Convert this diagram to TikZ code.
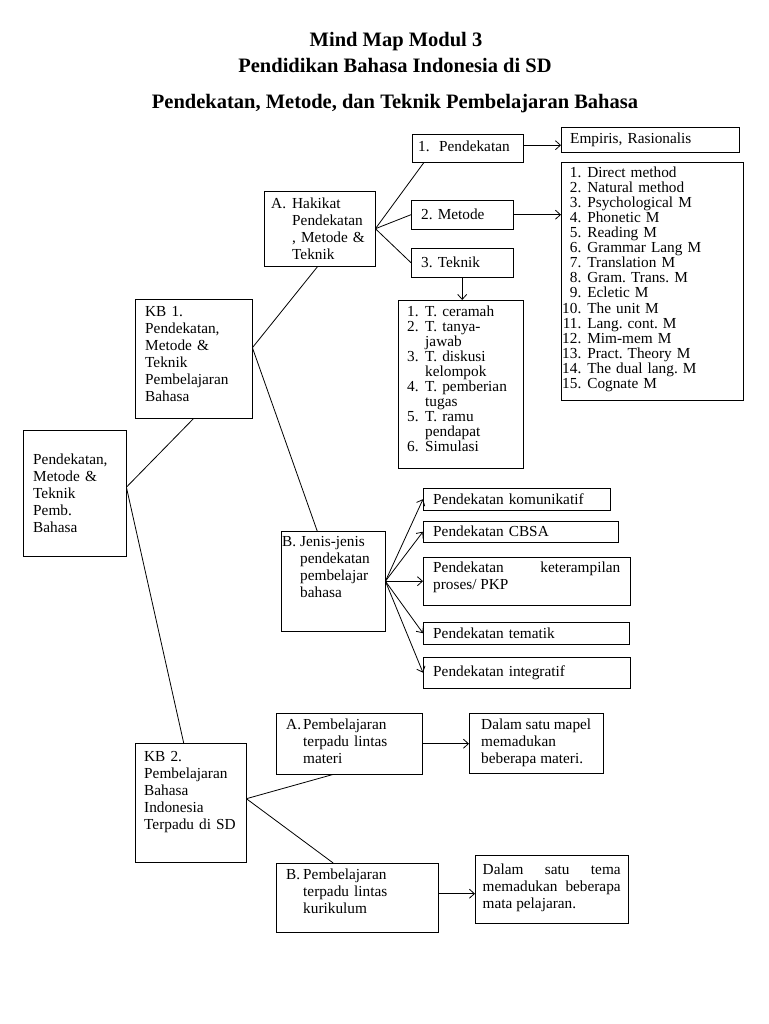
\documentclass[tikz,border=0pt]{standalone}
\usepackage{fontspec}
\setmainfont{Liberation Serif}
\usepackage{tikz}
\usetikzlibrary{arrows, arrows.meta, calc, positioning}

\newcommand{\bodyfont}{\fontsize{15.3}{17}\selectfont}
\newcommand{\listfont}{\fontsize{15.3}{15}\selectfont}
\newcommand{\titlefont}{\fontsize{20.5}{24}\selectfont\bfseries}

\tikzset{
  box/.style={draw, anchor=north west, align=left, inner xsep=10pt, inner ysep=0pt, font=\bodyfont},
  toptext/.style 2 args={text height=#1, text depth=#2},
  ttl/.style={font=\titlefont, inner sep=0pt},
  link/.style={line width=0.8pt},
  arr/.style={line width=0.8pt, -{Straight Barb[length=5pt, width=9pt]}},
}

\begin{document}
\frenchspacing
\hyphenpenalty=10000 \exhyphenpenalty=10000 \tolerance=10000 \hbadness=10000
\begin{tikzpicture}[x=1pt, y=-1pt]
\useasboundingbox (0,0) rectangle (768,1024);

% titles
\node[ttl] (t1) at (396,42) {Mind Map Modul 3};
\node[ttl] (t2) at (395,65) {Pendidikan Bahasa Indonesia di SD};
\node[ttl] (t3) at (395,104) {Pendekatan, Metode, dan Teknik Pembelajaran Bahasa};

% left side
\node[box, text width=83pt, minimum height=126pt] (root) at (23,430) {Pendekatan,\\ Metode \&\\ Teknik\\ Pemb.\\ Bahasa};
\node[box, text width=97pt, toptext={17pt}{102pt}] (kb1) at (135,299) {KB 1.\\ Pendekatan,\\ Metode \&\\ Teknik\\ Pembelajaran\\ Bahasa};
\node[box, inner xsep=9pt, text width=93pt, toptext={18pt}{101pt}] (kb2) at (135,743) {KB 2.\\ Pembelajaran\\ Bahasa\\ Indonesia\\ Terpadu di SD};

% KB 1
\node[box, inner xsep=7pt, text width=97pt, toptext={17pt}{58pt}] (hakikat) at (264,191)
  {\begin{tabular}[t]{@{}p{21pt}@{}l@{}}A. & Hakikat\\ & Pendekatan\\ & , Metode \&\\ & Teknik\end{tabular}};
\node[box, inner xsep=6pt, text width=99pt, minimum height=28pt] (pend1) at (412,134)
  {\begin{tabular}{@{}p{21pt}@{}l@{}}1. & Pendekatan\end{tabular}};
\node[box, text width=82pt, minimum height=29pt] (metode) at (411,200) {2. Metode};
\node[box, text width=82pt, minimum height=29pt] (teknik) at (411,248) {3. Teknik};
\node[box, inner xsep=9pt, text width=160pt, minimum height=25pt] (empiris) at (561,127) {Empiris, Rasionalis};

\node[box, inner xsep=9pt, text width=107pt, font=\listfont, toptext={16pt}{152pt}] (tlist) at (398,300)
  {\begin{tabular}[t]{@{}p{18pt}@{}l@{}}
   1. & T. ceramah\\
   2. & T. tanya-\\
      & jawab\\
   3. & T. diskusi\\
      & kelompok\\
   4. & T. pemberian\\
      & tugas\\
   5. & T. ramu\\
      & pendapat\\
   6. & Simulasi
   \end{tabular}};

\node[box, inner xsep=1pt, text width=180pt, font=\listfont, toptext={15pt}{223pt}] (mlist) at (561,162)
  {\begin{tabular}[t]{@{}r@{\hspace{6pt}}l@{}}
   1. & Direct method\\
   2. & Natural method\\
   3. & Psychological M\\
   4. & Phonetic M\\
   5. & Reading M\\
   6. & Grammar Lang M\\
   7. & Translation M\\
   8. & Gram. Trans. M\\
   9. & Ecletic M\\
   10. & The unit M\\
   11. & Lang. cont. M\\
   12. & Mim-mem M\\
   13. & Pract. Theory M\\
   14. & The dual lang. M\\
   15. & Cognate M
   \end{tabular}};

\node[box, inner xsep=1pt, text width=102pt, toptext={15pt}{85pt}] (bjenis) at (281,531)
  {\begin{tabular}[t]{@{}p{18pt}@{}l@{}}B. & Jenis-jenis\\ & pendekatan\\ & pembelajar\\ & bahasa\end{tabular}};

\node[box, text width=167pt, minimum height=22pt] (komu) at (423,488) {Pendekatan komunikatif};
\node[box, text width=175pt, minimum height=21pt] (cbsa) at (423,521) {Pendekatan CBSA};
\node[box, align=justify, text width=187pt, toptext={15pt}{33pt}] (ketr) at (423,557) {Pendekatan keterampilan proses/ PKP};
\node[box, text width=186pt, minimum height=22pt] (tema) at (423,622) {Pendekatan tematik};
\node[box, text width=187pt, minimum height=31pt] (integ) at (423,657) {Pendekatan integratif};

% KB 2
\node[box, text width=126pt, toptext={16pt}{45pt}] (apemb) at (276,713)
  {\begin{tabular}[t]{@{}p{17pt}@{}l@{}}A. & Pembelajaran\\ & terpadu lintas\\ & materi\end{tabular}};
\node[box, text width=142pt, toptext={16pt}{53pt}] (bpemb) at (276,863)
  {\begin{tabular}[t]{@{}p{17pt}@{}l@{}}B. & Pembelajaran\\ & terpadu lintas\\ & kurikulum\end{tabular}};
\node[box, align=justify, inner xsep=12pt, text width=110pt, toptext={16pt}{44pt}] (dmapel) at (469,713) {Dalam satu mapel memadukan beberapa materi.};
\node[box, align=justify, inner xsep=7.5pt, text width=138pt, toptext={19pt}{49pt}] (dtema) at (475,855) {Dalam satu tema memadukan beberapa mata pelajaran.};

% connectors
\coordinate (jroot) at ([yshift=6pt]root.east);
\coordinate (jkb1) at ([yshift=11pt]kb1.east);
\coordinate (jkb2) at ([yshift=4pt]kb2.east);
\draw[link] (jroot) -- (kb1.south);
\draw[link] (jroot) -- ([xshift=-7pt]kb2.north);
\draw[link] (jkb1) -- ([xshift=-2pt]hakikat.south);
\draw[link] (jkb1) -- ([xshift=-16pt]bjenis.north);
\draw[link] (hakikat.east) -- ([xshift=12pt]pend1.south west);
\draw[link] (hakikat.east) -- (metode.west);
\draw[link] (hakikat.east) -- (teknik.west);
\draw[arr] ([yshift=3pt]pend1.east) -- ([yshift=3pt]pend1.east -| empiris.west);
\draw[arr] (metode.east) -- (metode.east -| mlist.west);
\draw[arr] (teknik.south) -- (teknik.south |- tlist.north);
\foreach \n in {komu, cbsa, ketr, tema, integ}
  \draw[arr] (bjenis.east) -- (\n.west);
\draw[link] (jkb2) -- ([xshift=-16pt]apemb.south);
\draw[link] (jkb2) -- ([xshift=-24pt]bpemb.north);
\draw[arr] (apemb.east) -- (apemb.east -| dmapel.west);
\draw[arr] ([yshift=4pt]bpemb.east) -- ([yshift=4pt]bpemb.east -| dtema.west);
\end{tikzpicture}
\end{document}
